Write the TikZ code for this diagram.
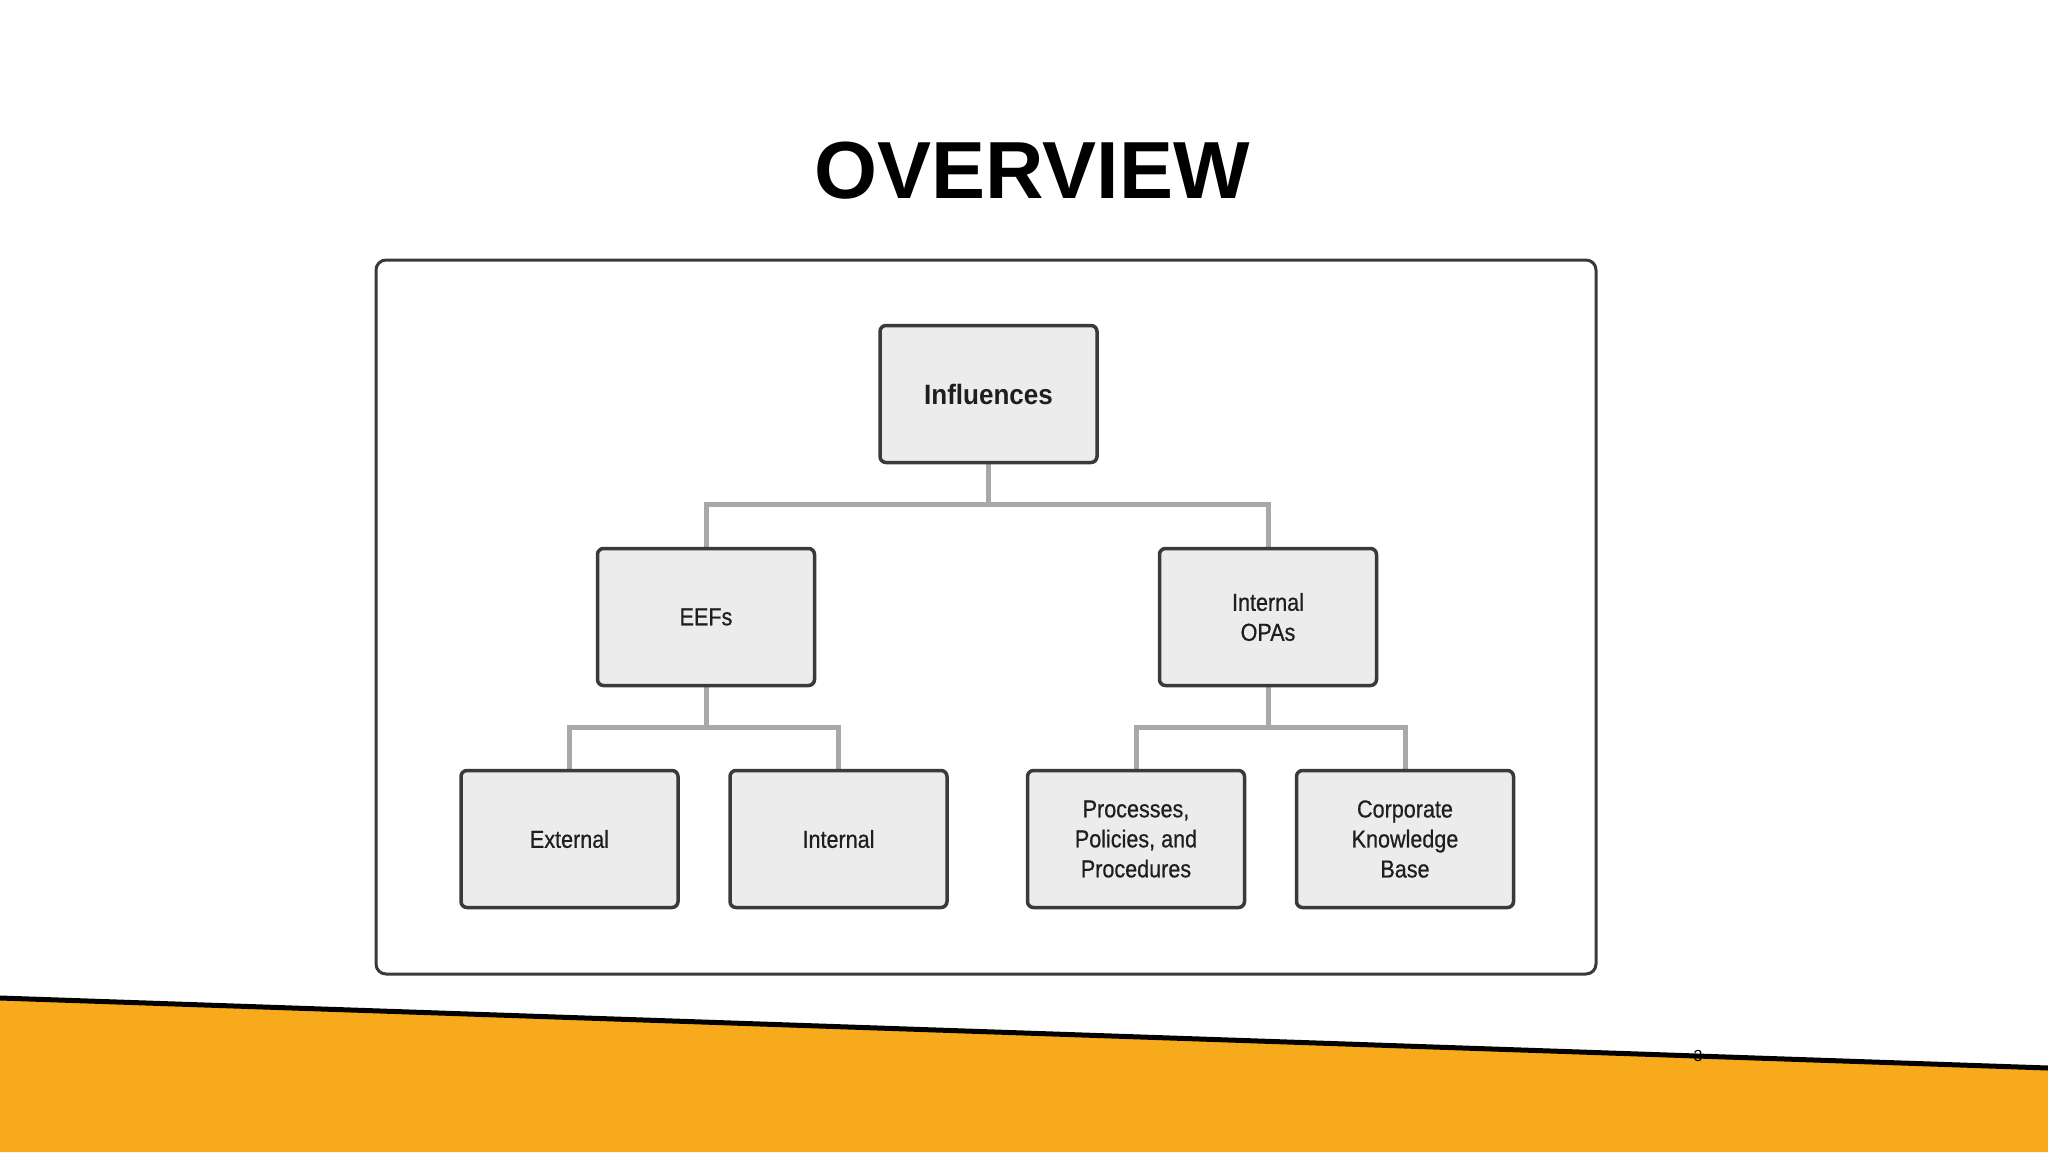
\documentclass[tikz,border=0pt]{standalone}
\usepackage{fontspec}
\setmainfont{Liberation Sans}
\newfontfamily\boxfont[FakeStretch=0.88,FakeBold=0.6]{Liberation Sans}
\newfontfamily\boxfontb[FakeStretch=0.93]{Liberation Sans Bold}
\newfontfamily\titlefont{Liberation Sans Bold}
\definecolor{bandorange}{HTML}{F6AA1C}
\definecolor{boxfill}{HTML}{ECECEC}
\definecolor{boxline}{HTML}{3A3A3A}
\definecolor{connline}{HTML}{A8A8A8}
\definecolor{boxtext}{HTML}{1E1E1E}
\begin{document}
\begin{tikzpicture}[x=1pt,y=-1pt,
  orgbox/.style={draw=boxline, line width=3.5pt, fill=boxfill, rounded corners=6pt,
    minimum width=217pt, minimum height=137pt, inner sep=0pt, align=center,
    text=boxtext, font=\boxfont\fontsize{24.5}{30}\selectfont},
  conn/.style={draw=connline, line width=5pt},
  frame/.style={draw=boxline, line width=3pt, rounded corners=10pt}]
\useasboundingbox (0,0) rectangle (2048,1152);
\fill[white] (0,0) rectangle (2048,1152);
% orange band
\fill[bandorange] (0,998) -- (2048,1068) -- (2048,1152) -- (0,1152) -- cycle;
\draw[black, line width=5pt] (0,998) -- (2048,1068);
\node[font=\fontsize{16}{18}\selectfont, anchor=base] (pagenum) at (1698,1061) {3};
% title
\node[font=\titlefont\fontsize{81}{90}\selectfont, anchor=base] (title) at (1032,198) {OVERVIEW};
% frame
\draw[frame] (376,260) rectangle (1596,974);
% connectors (behind)
\draw[conn] (988.5,394) -- (988.5,504) -| (706,617);
\draw[conn] (988.5,504) -| (1268,617);
\draw[conn] (706,617) -- (706,727) -| (569.5,839);
\draw[conn] (706,727) -| (838.5,839);
\draw[conn] (1268,617) -- (1268,727) -| (1136,839);
\draw[conn] (1268,727) -| (1405,839);
% boxes
\node[orgbox, font=\boxfontb\fontsize{28}{32}\selectfont] (infl) at (988.5,394) {Influences};
\node[orgbox] (eefs) at (706,617) {EEFs};
\node[orgbox] (opas) at (1268,617) {Internal\\OPAs};
\node[orgbox] (ext) at (569.5,839) {External};
\node[orgbox] (int) at (838.5,839) {Internal};
\node[orgbox] (proc) at (1136,839) {Processes,\\Policies, and\\Procedures};
\node[orgbox] (corp) at (1405,839) {Corporate\\Knowledge\\Base};
\end{tikzpicture}
\end{document}
